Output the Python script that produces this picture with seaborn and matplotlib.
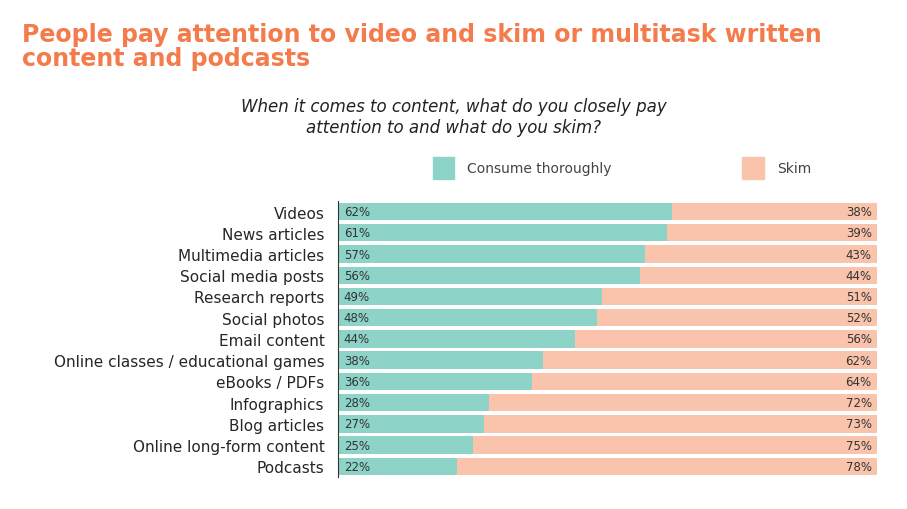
import matplotlib
matplotlib.use("Agg")
import matplotlib.pyplot as plt
import seaborn as sns
import pandas as pd
from matplotlib.patches import Rectangle

categories = ["Videos", "News articles", "Multimedia articles", "Social media posts",
              "Research reports", "Social photos", "Email content",
              "Online classes / educational games", "eBooks / PDFs", "Infographics",
              "Blog articles", "Online long-form content", "Podcasts"]
thorough = [62, 61, 57, 56, 49, 48, 44, 38, 36, 28, 27, 25, 22]
skim = [38, 39, 43, 44, 51, 52, 56, 62, 64, 72, 73, 75, 78]

teal = "#8ED3C8"
salmon = "#F9C4AB"

sns.set_style("white")
plt.rcParams['font.family'] = ['DejaVu Sans']

df = pd.DataFrame({"cat": categories, "thorough": thorough, "skim": skim})
df["total"] = df["thorough"] + df["skim"]

fig = plt.figure(figsize=(9.07, 5.10), dpi=100)
ax = fig.add_axes([0.373, 0.063, 0.594, 0.541])
sns.barplot(data=df, y="cat", x="total", color=salmon, orient="h", ax=ax, width=0.82,
            saturation=1, linewidth=0)
sns.barplot(data=df, y="cat", x="thorough", color=teal, orient="h", ax=ax, width=0.82,
            saturation=1, linewidth=0)
ax.set_xlim(0, 100)
ax.set_xlabel(""); ax.set_ylabel("")
ax.set_xticks([])
ax.tick_params(axis="y", length=0, labelsize=11, pad=10)
for s in ["top", "right", "bottom"]:
    ax.spines[s].set_visible(False)
ax.spines["left"].set_color("#333333")
for i, (t, s) in enumerate(zip(thorough, skim)):
    ax.text(1, i, f"{t}%", va="center", ha="left", fontsize=8.5, color="#333333")
    ax.text(99, i, f"{s}%", va="center", ha="right", fontsize=8.5, color="#333333")

fig.text(0.024, 0.907, "People pay attention to video and skim or multitask written\ncontent and podcasts",
         color="#F47C4C", fontsize=17, fontweight="bold", va="center", ha="left", linespacing=1.0)
fig.text(0.5, 0.77, "When it comes to content, what do you closely pay\nattention to and what do you skim?",
         fontsize=12, style="italic", ha="center", va="center", color="#222222")
fig.patches.append(Rectangle((0.477, 0.648), 0.024, 0.042, transform=fig.transFigure, color=teal))
fig.text(0.515, 0.669, "Consume thoroughly", fontsize=10, va="center", color="#444444")
fig.patches.append(Rectangle((0.818, 0.648), 0.024, 0.042, transform=fig.transFigure, color=salmon))
fig.text(0.857, 0.669, "Skim", fontsize=10, va="center", color="#444444")

fig.savefig("out.png", dpi=100)
